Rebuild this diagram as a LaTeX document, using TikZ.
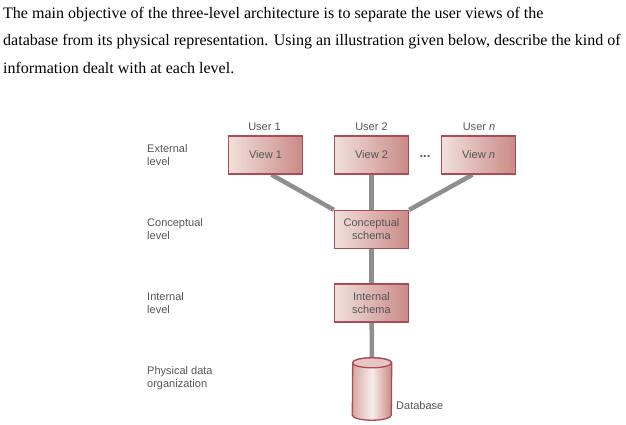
\documentclass[tikz,border=0pt]{standalone}
\usepackage{fontspec}
\setmainfont{Liberation Serif}
\newfontfamily\labelfont{Liberation Sans}
\usetikzlibrary{backgrounds}
\definecolor{boxedge}{HTML}{AC4A55}
\definecolor{boxlight}{HTML}{F1E0DC}
\definecolor{boxdark}{HTML}{C98A86}
\definecolor{linkgray}{HTML}{8E8E8E}
\definecolor{labelgray}{HTML}{555555}
\tikzset{
    levelbox/.style={draw=boxedge, line width=1.3pt, minimum width=74pt, minimum height=38pt, inner sep=0pt, align=center, left color=boxlight, right color=boxdark, font=\labelfont\fontsize{11}{13}\selectfont, text=labelgray},
    sidelabel/.style={anchor=west, inner sep=0pt, align=left, font=\labelfont\fontsize{11}{13}\selectfont, text=labelgray},
    toplabel/.style={inner sep=0pt, font=\labelfont\fontsize{11}{13}\selectfont, text=labelgray},
    questionline/.style={anchor=base west, inner sep=0pt, font=\fontsize{16}{18}\selectfont, text=black},
    link/.style={draw=linkgray, line width=4.5pt}
}
\begin{document}
\begin{tikzpicture}[x=1pt, y=-1pt]
    \useasboundingbox (0,0) rectangle (626,424);
    % Question text
    \node[questionline] (line1) at (3,18) {The main objective of the three-level architecture is to separate the user views of the};
    \node[questionline] (line2) at (3,45) {database from its physical representation. Using an illustration given below, describe the kind of};
    \node[questionline] (line3) at (3,73) {information dealt with at each level.};

    % Boxes
    \node[levelbox] (view1) at (265.5,155) {View 1};
    \node[levelbox] (view2) at (371.5,155) {View 2};
    \node[levelbox] (viewn) at (478.5,155) {View \textit{n}};
    \node[levelbox] (conceptual) at (371.5,229.5) {Conceptual\\schema};
    \node[levelbox] (internal) at (371.5,303) {Internal\\schema};
    \node[minimum width=39pt, minimum height=62pt, inner sep=0pt] (database) at (372,389) {};

    % User labels
    \node[toplabel] (user1) at (264.5,127) {User 1};
    \node[toplabel] (user2) at (371.5,127) {User 2};
    \node[toplabel] (usern) at (479,127) {User \textit{n}};
    \node[toplabel, font=\labelfont\bfseries\fontsize{13}{13}\selectfont] (dots) at (425,157) {...};
    \node[toplabel, anchor=west] (dblabel) at (396,406) {Database};

    % Level labels
    \node[sidelabel] (external) at (147,155) {External\\level};
    \node[sidelabel] (conceptuallevel) at (147,229) {Conceptual\\level};
    \node[sidelabel] (internallevel) at (147,303) {Internal\\level};
    \node[sidelabel] (physical) at (147,378) {Physical data\\organization};

    % Lines between levels
    \begin{pgfonlayer}{background}
    \draw[link] ([xshift=6pt]view1.south) -- (conceptual.north west);
    \draw[link] (view2) -- (conceptual);
    \draw[link] ([xshift=-6pt]viewn.south) -- (conceptual.north east);
    \draw[link] (conceptual) -- (internal);
    \draw[link] (internal) -- (database.north);
    \end{pgfonlayer}

    % Cylinder
    \path[draw=boxedge, line width=1.3pt, left color=boxdark!75!white, right color=boxdark, middle color=boxlight!60!white]
        ([yshift=5pt]database.south west)
        arc[start angle=180, end angle=360, x radius=19.5pt, y radius=5pt]
        -- ([yshift=-5pt]database.north east)
        arc[start angle=0, end angle=180, x radius=19.5pt, y radius=5pt] -- cycle;
    \draw[draw=boxedge, line width=1.3pt, fill=boxlight!70!boxdark]
        ([yshift=-5pt]database.north) ellipse[x radius=19.5pt, y radius=5pt];
\end{tikzpicture}
\end{document}
